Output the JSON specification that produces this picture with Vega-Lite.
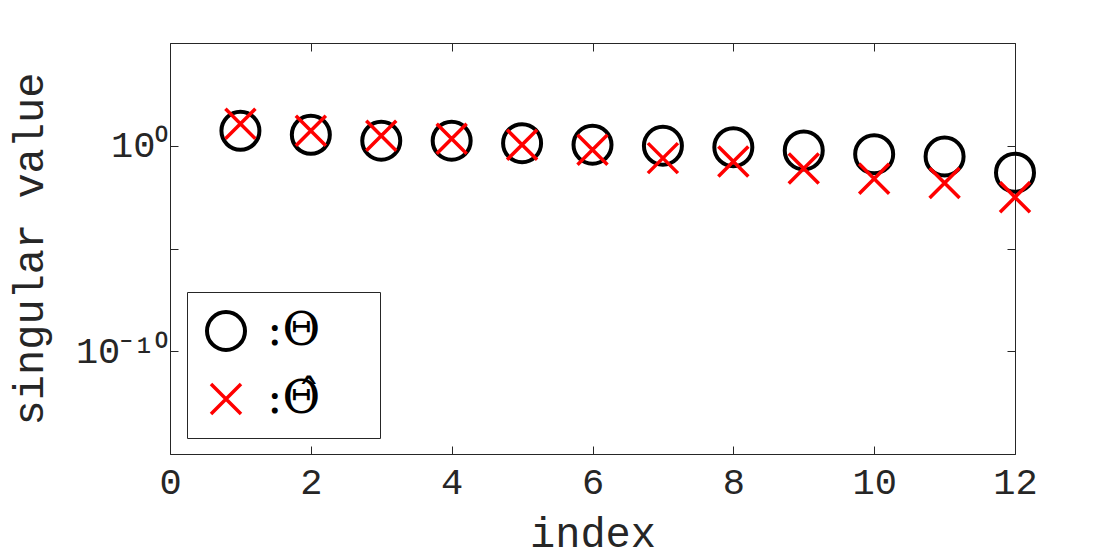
{
  "$schema": "https://vega.github.io/schema/vega-lite/v6.json",
  "width": 845,
  "height": 411,
  "autosize": "none",
  "padding": {"left": 170, "top": 43, "right": 105, "bottom": 106},
  "background": "white",
  "config": {
    "view": {"stroke": "#262626", "strokeWidth": 1},
    "axis": {
      "labelFont": "Liberation Mono",
      "titleFont": "Liberation Mono",
      "labelColor": "#262626",
      "titleColor": "#262626",
      "tickColor": "#262626",
      "domainColor": "#262626",
      "labelFontSize": 37,
      "titleFontSize": 42,
      "titleFontWeight": "normal",
      "labelFlush": false,
      "tickSize": -8,
      "grid": false
    }
  },
  "data": {
    "values": [
      {"index": 1, "series": "Theta", "value": 5.35},
      {"index": 2, "series": "Theta", "value": 3.42},
      {"index": 3, "series": "Theta", "value": 1.75},
      {"index": 4, "series": "Theta", "value": 1.75},
      {"index": 5, "series": "Theta", "value": 1.34},
      {"index": 6, "series": "Theta", "value": 1.12},
      {"index": 7, "series": "Theta", "value": 1.0},
      {"index": 8, "series": "Theta", "value": 0.855},
      {"index": 9, "series": "Theta", "value": 0.59},
      {"index": 10, "series": "Theta", "value": 0.39},
      {"index": 11, "series": "Theta", "value": 0.30},
      {"index": 12, "series": "Theta", "value": 0.049},
      {"index": 1, "series": "Theta hat", "value": 11.7},
      {"index": 2, "series": "Theta hat", "value": 5.35},
      {"index": 3, "series": "Theta hat", "value": 3.06},
      {"index": 4, "series": "Theta hat", "value": 2.19},
      {"index": 5, "series": "Theta hat", "value": 1.12},
      {"index": 6, "series": "Theta hat", "value": 0.64},
      {"index": 7, "series": "Theta hat", "value": 0.25},
      {"index": 8, "series": "Theta hat", "value": 0.173},
      {"index": 9, "series": "Theta hat", "value": 0.079},
      {"index": 10, "series": "Theta hat", "value": 0.025},
      {"index": 11, "series": "Theta hat", "value": 0.0153},
      {"index": 12, "series": "Theta hat", "value": 0.0031}
    ]
  },
  "layer": [
    {
      "mark": {"type": "point", "filled": false, "opacity": 1, "clip": false},
      "encoding": {
        "x": {
          "field": "index",
          "type": "quantitative",
          "scale": {"domain": [0, 12], "nice": false},
          "axis": {"orient": "bottom", "values": [0, 2, 4, 6, 8, 10, 12], "title": "index", "domain": false, "labelPadding": 18, "titlePadding": 13}
        },
        "y": {
          "field": "value",
          "type": "quantitative",
          "scale": {"type": "log", "domain": [1e-15, 100000], "nice": false},
          "axis": {
            "orient": "left",
            "values": [1e-15, 1e-10, 1e-5, 1, 100000],
            "title": "singular value",
            "domain": false,
            "labelPadding": 10,
            "titlePadding": 24,
            "labelExpr": "abs(log(datum.value) / LN10) < 0.01 ? '10⁰' : abs(log(datum.value) / LN10 + 10) < 0.01 ? '10⁻¹⁰' : ''"
          }
        },
        "color": {
          "field": "series",
          "type": "nominal",
          "scale": {"domain": ["Theta", "Theta hat"], "range": ["#000000", "#ff0000"]},
          "legend": {
            "orient": "none",
            "legendX": 17,
            "legendY": 249,
            "title": "MM",
            "titleOrient": "right",
            "titleColor": "white",
            "titleFontSize": 26,
            "titlePadding": 0,
            "strokeColor": "#262626",
            "fillColor": "white",
            "padding": 16,
            "rowPadding": 18,
            "labelOffset": 18,
            "labelFont": "DejaVu Serif",
            "labelFontSize": 46,
            "labelFontWeight": "normal",
            "labelColor": "black",
            "labelExpr": "datum.label == 'Theta' ? ':Θ' : ':Θ\u0302'"
          }
        },
        "shape": {
          "field": "series",
          "type": "nominal",
          "scale": {"domain": ["Theta", "Theta hat"], "range": ["circle", "M-1,-1L1,1M-1,1L1,-1"]}
        },
        "size": {
          "field": "series",
          "type": "nominal",
          "scale": {"domain": ["Theta", "Theta hat"], "range": [1444, 900]}
        },
        "strokeWidth": {
          "field": "series",
          "type": "nominal",
          "scale": {"domain": ["Theta", "Theta hat"], "range": [4, 3.5]}
        }
      }
    },
    {
      "mark": {"type": "point", "opacity": 0},
      "encoding": {
        "x": {
          "field": "index",
          "type": "quantitative",
          "scale": {"domain": [0, 12], "nice": false},
          "axis": {"orient": "top", "values": [0, 2, 4, 6, 8, 10, 12], "title": null, "labels": false, "domain": false}
        },
        "y": {
          "field": "value",
          "type": "quantitative",
          "scale": {"type": "log", "domain": [1e-15, 100000], "nice": false},
          "axis": {"orient": "right", "values": [1e-15, 1e-10, 1e-5, 1, 100000], "title": null, "labels": false, "domain": false}
        }
      }
    }
  ],
  "resolve": {"axis": {"x": "independent", "y": "independent"}}
}
